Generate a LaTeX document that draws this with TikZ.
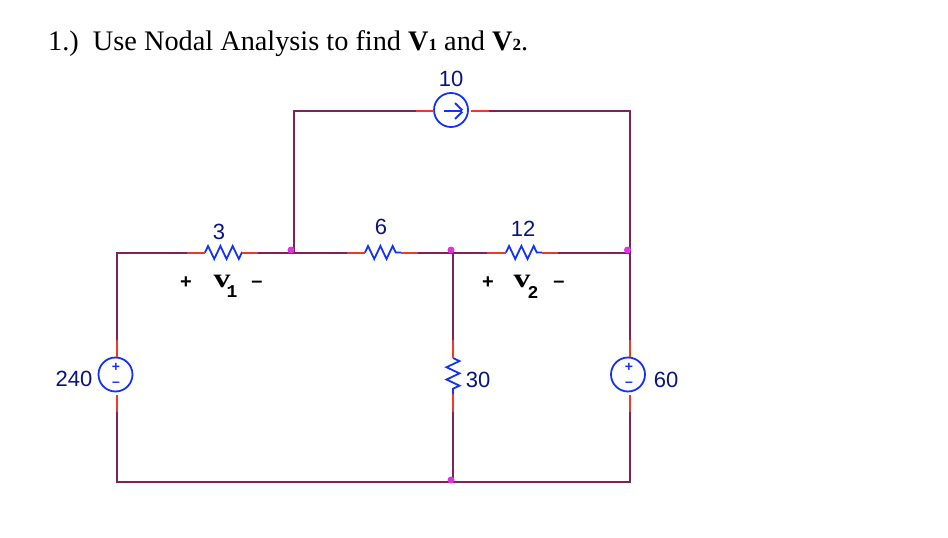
\documentclass[tikz,border=0pt]{standalone}
\usepackage{fontspec}
\setmainfont{Liberation Serif}
\newfontfamily\arialfont{Liberation Sans}
\newfontfamily\monofont{Liberation Mono}
\usetikzlibrary{decorations.pathmorphing}
\definecolor{wirecol}{RGB}{125,35,90}
\definecolor{leadcol}{RGB}{240,55,45}
\definecolor{partcol}{RGB}{20,50,245}
\definecolor{valcol}{RGB}{10,20,125}
\definecolor{dotcol}{RGB}{225,50,225}
\begin{document}
\begin{tikzpicture}[x=1pt,y=-1pt,
    wire/.style={draw=wirecol,line width=2pt},
    lead/.style={draw=leadcol,line width=2pt},
    res/.style={draw=partcol,line width=1.8pt,decorate,decoration={zigzag,segment length=12.3pt,amplitude=6.5pt}},
    src/.style={circle,draw=partcol,line width=1.8pt,minimum size=34pt,inner sep=0pt},
    junc/.style={circle,fill=dotcol,minimum size=7pt,inner sep=0pt},
    val/.style={text=valcol,font=\arialfont\fontsize{22}{22}\selectfont,inner sep=0pt},
    sign/.style={text=partcol,font=\arialfont\bfseries\fontsize{14}{14}\selectfont,inner sep=0pt},
    pol/.style={font=\arialfont\bfseries\fontsize{20}{20}\selectfont,inner sep=0pt},
    volt/.style={font=\bfseries\fontsize{27}{27}\selectfont,inner sep=0pt,xscale=1.25},
    voltsub/.style={font=\monofont\bfseries\fontsize{18}{18}\selectfont,inner sep=0pt}]
\useasboundingbox (0,0) rectangle (948,538);

\node (title) [anchor=base west,inner sep=0pt,font=\fontsize{28.3}{28}\selectfont] at (48,50)
    {1.)\, Use Nodal Analysis to find \textbf{V}{\fontsize{17}{17}\selectfont\textbf{1}} and \textbf{V}{\fontsize{17}{17}\selectfont\textbf{2}}.};

% corners
\coordinate (bl) at (117,482);
\coordinate (br) at (630,482);
\coordinate (tl) at (117,252.5);
\coordinate (tr) at (630,252.5);
\coordinate (n1) at (293.5,252.5);
\coordinate (n2) at (453,252.5);
\coordinate (n3) at (453,482);
\coordinate (topl) at (293.5,111);
\coordinate (topr) at (630,111);

% parts
\node (is) [src] at (451,110) {};
\node (vs1) [src] at (115.5,374.5) {};
\node (vs2) [src] at (628,374.5) {};
\node (isa) [inner sep=0pt] at (443,111) {};
\node (isb) [inner sep=0pt] at (463,111) {};
\draw[partcol,line width=1.8pt] (isa) -- (isb);
\draw[partcol,line width=1.8pt] (455,103) -- (isb) -- (455,119);
\node (vs1p) [sign] at (116,367) {+};
\node (vs1m) [sign] at (116,384) {–};
\node (vs2p) [sign] at (629,367) {+};
\node (vs2m) [sign] at (629,384) {–};

\coordinate (r1a) at (205,252.5);
\coordinate (r1b) at (242,252.5);
\coordinate (r2a) at (365,252.5);
\coordinate (r2b) at (401,252.5);
\coordinate (r3a) at (506,252.5);
\coordinate (r3b) at (542,252.5);
\coordinate (r4a) at (453,358);
\coordinate (r4b) at (453,394);
\draw[res] (r1a) -- (r1b);
\draw[res] (r2a) -- (r2b);
\draw[res] (r3a) -- (r3b);
\draw[res] (r4a) -- (r4b);

% red stubs
\coordinate (s1) at (187,252.5);
\coordinate (s2) at (258,252.5);
\coordinate (s3) at (347,252.5);
\coordinate (s4) at (418,252.5);
\coordinate (s5) at (487,252.5);
\coordinate (s6) at (558,252.5);
\coordinate (s7) at (416,111);
\coordinate (s8) at (434,111);
\coordinate (s9) at (471,111);
\coordinate (s10) at (489,111);
\coordinate (s11) at (117,340);
\coordinate (s12) at (117,357);
\coordinate (s13) at (117,395);
\coordinate (s14) at (117,412);
\coordinate (s15) at (453,340);
\coordinate (s16) at (453,412);
\coordinate (s17) at (630,340);
\coordinate (s18) at (630,357);
\coordinate (s19) at (630,395);
\coordinate (s20) at (630,412);
\draw[lead] (s1) -- (r1a) (r1b) -- (s2);
\draw[lead] (s3) -- (r2a) (r2b) -- (s4);
\draw[lead] (s5) -- (r3a) (r3b) -- (s6);
\draw[lead] (s7) -- (s8) (s9) -- (s10);
\draw[lead] (s11) -- (s12) (s13) -- (s14);
\draw[lead] (s15) -- (r4a) (r4b) -- (s16);
\draw[lead] (s17) -- (s18) (s19) -- (s20);

% wires
\draw[wire] (s11) -- (tl) -- (s1);
\draw[wire] (s2) -- (s3);
\draw[wire] (s4) -- (s5);
\draw[wire] (s6) -- (tr) -- (s17);
\draw[wire] (n1) -- (topl) -- (s7);
\draw[wire] (s10) -- (topr) -- (tr);
\draw[wire] (n2) -- (s15);
\draw[wire] (s16) -- (n3);
\draw[wire] (s14) -- (bl) -- (br) -- (s20);

\node (j1) [junc] at (291,250) {};
\node (j2) [junc] at (451,250) {};
\node (j3) [junc] at (627.5,250) {};
\node (j4) [junc] at (451,480) {};

% labels
\node (l10) [val] at (451,79) {10};
\node (l3) [val] at (219,232) {3};
\node (l6) [val] at (381,227) {6};
\node (l12) [val] at (523,229) {12};
\node (l240) [val] at (74,379) {240};
\node (l30) [val] at (478,380) {30};
\node (l60) [val] at (666,380) {60};

\node (p1) [pol] at (186,283) {+};
\node (v1) [volt] at (222,281) {v};
\node (v1s) [voltsub] at (232,292) {1};
\node (m1) [pol] at (257,284) {–};
\node (p2) [pol] at (488,283) {+};
\node (v2) [volt] at (522,281) {v};
\node (v2s) [voltsub] at (533,292) {2};
\node (m2) [pol] at (559,284) {–};
\end{tikzpicture}
\end{document}
